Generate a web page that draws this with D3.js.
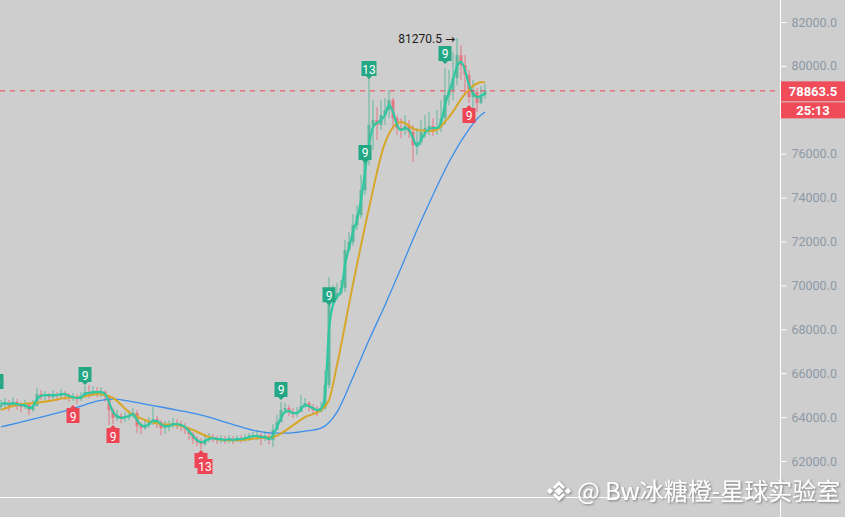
<!DOCTYPE html>
<html>
<head>
<meta charset="utf-8">
<script src="https://cdn.jsdelivr.net/npm/d3@7"></script>
<style>
  html, body { margin: 0; padding: 0; background: #cecece; overflow: hidden; }
  svg { display: block; font-family: Roboto, "Noto Sans", sans-serif; }
</style>
</head>
<body>
<svg id="chart" width="845" height="517"></svg>
<script>
// price axis ticks
const priceTicks = [62000, 64000, 66000, 68000, 70000, 72000, 74000, 76000, 78000, 80000, 82000];

// candles (open of each candle = previous close)
const firstOpen = 64460;
const closes = [
  64550, 64640, 64500, 64690, 64550, 64460, 64590, 64320, 64500, 65050,
  64960, 65000, 64910, 65050, 64960, 65100, 65000, 64870, 64910, 64820,
  64960, 65140, 65050, 65190, 65100, 65140, 64960, 64320, 63960, 64050,
  63960, 64000, 64090, 64180, 63590, 63500, 63640, 63770, 63910, 63770,
  63500, 63550, 63640, 63730, 63680, 63590, 63450, 63230, 63000, 62860,
  62770, 62950, 63090, 63040, 62950, 63000, 62950, 63000, 62950, 63040,
  63000, 63040, 63090, 63140, 63180, 63040, 63140, 62950, 63410, 63770,
  64320, 64410, 64230, 64140, 64230, 64500, 64640, 64460, 64320, 64230,
  64410, 65460, 69330, 69470, 69650, 69880, 71610, 71980, 72750, 73200,
  74340, 75710, 77310, 77530, 77310, 77760, 77990, 78440, 77620, 77170,
  77080, 77260, 76990, 76390, 76530, 76990, 77170, 77260, 77080, 77210,
  77620, 78670, 78900, 79450, 80490, 80040, 79580, 78580, 78810, 78310,
  78670, 78863.5
];
const highs = [
  64780, 64870, 64780, 64910, 64820, 64690, 64780, 64640, 64780, 65320,
  65230, 65190, 65100, 65230, 65140, 65280, 65190, 65100, 65100, 65050,
  65140, 65410, 65460, 65410, 65370, 65370, 65230, 65000, 64410, 64320,
  64180, 64230, 64320, 64410, 64320, 63770, 63860, 64000, 64460, 64050,
  63860, 63820, 63860, 63960, 63910, 63820, 63730, 63550, 63320, 63140,
  63040, 63140, 63270, 63230, 63140, 63180, 63140, 63180, 63140, 63180,
  63180, 63230, 63270, 63320, 63410, 63270, 63360, 63320, 63680, 64090,
  64690, 64640, 64550, 64410, 64460, 65000, 64870, 64730, 64590, 64500,
  64690, 66140, 70380, 70020, 70110, 70240, 72070, 72430, 73250, 73660,
  75030, 76170, 79670, 78440, 78130, 78440, 78540, 78900, 78540, 77760,
  77620, 77760, 77530, 77310, 77170, 77530, 77760, 77900, 77620, 77990,
  78440, 79900, 79810, 80630, 81270.5, 80950, 80490, 79810, 79360, 78990,
  79080, 79170
];
const lows = [
  64320, 64410, 64270, 64460, 64320, 64230, 64370, 64090, 64230, 64500,
  64780, 64780, 64690, 64820, 64730, 64870, 64780, 64690, 64730, 64590,
  64730, 64870, 64870, 64960, 64910, 64910, 64690, 63640, 63680, 63820,
  63730, 63770, 63860, 63960, 63270, 63230, 63410, 63500, 63640, 63500,
  63180, 63230, 63360, 63500, 63450, 63360, 63230, 62950, 62770, 62680,
  62540, 62680, 62860, 62860, 62770, 62820, 62770, 62820, 62770, 62860,
  62820, 62860, 62910, 62950, 62950, 62730, 62910, 62770, 62640, 63500,
  63960, 64180, 64050, 63960, 64000, 64230, 64410, 64270, 64140, 64050,
  64230, 64320, 65320, 69100, 69330, 69560, 69700, 71520, 71790, 72520,
  73070, 74120, 75480, 76170, 76620, 77080, 77310, 77620, 77080, 76850,
  76710, 76850, 76710, 75620, 75940, 76390, 76710, 76850, 76800, 76850,
  76990, 77310, 78220, 78440, 79130, 79360, 78670, 78310, 77990, 77900,
  78260, 78490
];

// fast moving average (teal), one value per candle
const maFast = [
  64590, 64640, 64590, 64640, 64590, 64550, 64550, 64410, 64500, 64820,
  64960, 65000, 65000, 65000, 65000, 65050, 65050, 64960, 64910, 64870,
  64910, 65050, 65100, 65140, 65140, 65140, 65050, 64680, 64230, 64050,
  63960, 64000, 64050, 64140, 63870, 63640, 63590, 63680, 63820, 63820,
  63680, 63590, 63590, 63680, 63680, 63640, 63550, 63360, 63140, 62950,
  62860, 62910, 63000, 63040, 63000, 63000, 62950, 63000, 62950, 63000,
  63000, 63040, 63090, 63140, 63140, 63090, 63090, 63000, 63180, 63550,
  63960, 64230, 64270, 64180, 64180, 64370, 64550, 64500, 64410, 64320,
  64370, 65000, 67970, 69100, 69470, 69740, 70930, 71700, 72430, 72980,
  73890, 75160, 76390, 77210, 77400, 77530, 77760, 78220, 77900, 77310,
  77080, 77170, 77080, 76710, 76350, 76620, 76940, 77120, 77170, 77170,
  77440, 78220, 78810, 79360, 79990, 80180, 79810, 79130, 78760, 78580,
  78630, 78760
];

// medium moving average (gold), read at these candle indexes
const maMidIdx = [0, 4, 8, 12, 16, 20, 24, 28, 32, 36, 40, 44, 48, 52, 56, 60, 64, 68, 72, 76, 80, 82, 84, 88, 92, 96, 100, 104, 108, 112, 116, 120, 121];
const maMid = [
  64320, 64550, 64640, 64730, 64870, 64910, 65050, 64870, 64230, 63870,
  63680, 63640, 63410, 63090, 62950, 62950, 63040, 63090, 63500, 64000,
  64320, 64770, 66370, 70060, 73520, 76490, 77440, 77080, 77030, 77670,
  78720, 79260, 79260
];

// slow moving average (blue), read at these candle indexes
const maSlowIdx = [0, 4, 8, 12, 16, 20, 24, 28, 32, 36, 40, 44, 48, 52, 56, 60, 64, 68, 72, 76, 80, 84, 88, 92, 96, 100, 104, 108, 112, 116, 120, 121];
const maSlow = [
  63550, 63730, 63910, 64090, 64280, 64500, 64730, 64820, 64730, 64590,
  64460, 64320, 64180, 64000, 63770, 63550, 63360, 63270, 63270, 63360,
  63500, 64230, 65820, 67510, 69100, 70790, 72520, 74120, 75620, 76850,
  77760, 77900
];

// TD sequential markers: candle index, price the pointer touches, text, side
const tdIndex = [-1, 18, 21, 28, 50, 51, 70, 82, 91, 92, 111, 117];
const tdPrice = [65140, 64550, 65460, 63640, 62500, 62230, 64780, 69100, 75580, 79400, 80090, 78220];
const tdText  = ["9", "9", "9", "9", "9", "13", "9", "9", "9", "13", "9", "9"];
const tdSide  = ["buy", "sell", "buy", "sell", "sell", "sell", "buy", "buy", "buy", "buy", "buy", "sell"];

const lastPrice = 78863.5;
const countdown = "25:13";
const peakIndex = 114;
const peakPrice = 81270.5;

const W = 845, H = 517;
const axisX = 780;
const svg = d3.select("#chart");

const x = d3.scaleLinear().domain([0, closes.length - 1]).range([1, 485]);
const y = d3.scaleLinear().domain([62000, 82000]).range([461, 22]);

const upColor = "#26a884", downColor = "#ee4b5a";

svg.append("rect").attr("width", W).attr("height", H).attr("fill", "#cecece");

// pane separators
svg.append("line")
  .attr("x1", 0).attr("x2", axisX).attr("y1", 497.5).attr("y2", 497.5)
  .attr("stroke", "#ffffff").attr("stroke-width", 1);
svg.append("line")
  .attr("x1", axisX + 0.5).attr("x2", axisX + 0.5).attr("y1", 0).attr("y2", H)
  .attr("stroke", "#ffffff").attr("stroke-width", 1);

// right price axis
let axis = svg.append("g")
  .attr("transform", `translate(${axisX + 0.5},0)`)
  .call(d3.axisRight(y).tickValues(priceTicks).tickFormat(d3.format(".1f")).tickSize(6).tickPadding(5));
axis.select(".domain").remove();
axis.selectAll(".tick line").attr("stroke", "#ffffff");
axis.selectAll(".tick text")
  .attr("fill", "#8d99a6")
  .style("font-size", "12.5px")
  .style("font-family", "Roboto, sans-serif");

svg.append("text")
  .attr("x", 791).attr("y", 526)
  .attr("fill", "#8d99a6")
  .style("font-size", "12.5px")
  .text("100.00%");

// candles
let candles = closes.map((c, i) => ({
  i: i,
  open: i === 0 ? firstOpen : closes[i - 1],
  close: c,
  high: highs[i],
  low: lows[i]
}));

let cg = svg.append("g").attr("opacity", 0.65);
cg.selectAll("line.wick")
  .data(candles)
  .enter()
  .append("line")
  .attr("class", "wick")
  .attr("x1", d => x(d.i)).attr("x2", d => x(d.i))
  .attr("y1", d => y(d.high)).attr("y2", d => y(d.low))
  .attr("stroke", d => d.close >= d.open ? upColor : downColor)
  .attr("stroke-width", 1);
cg.selectAll("rect.body")
  .data(candles)
  .enter()
  .append("rect")
  .attr("class", "body")
  .attr("x", d => x(d.i) - 1.5)
  .attr("width", 3)
  .attr("y", d => y(Math.max(d.open, d.close)))
  .attr("height", d => Math.max(1, Math.abs(y(d.open) - y(d.close))))
  .attr("fill", d => d.close >= d.open ? upColor : downColor);

// moving averages
function drawLine(idx, vals, color, width) {
  let pts = vals.map((v, k) => [x(idx[k]), y(v)]);
  svg.append("path")
    .attr("d", d3.line().curve(d3.curveMonotoneX)(pts))
    .attr("fill", "none")
    .attr("stroke", color)
    .attr("stroke-width", width)
    .attr("stroke-linejoin", "round");
}
drawLine(maSlowIdx, maSlow, "#3b8eea", 1.3);
drawLine(maMidIdx, maMid, "#d6a72a", 2);
drawLine(maFast.map((v, i) => i), maFast, "#2fc7a1", 2.2);

// last price dashed line
svg.append("line")
  .attr("x1", 0).attr("x2", axisX).attr("y1", y(lastPrice)).attr("y2", y(lastPrice))
  .attr("stroke", "#f0404f").attr("stroke-width", 1)
  .attr("stroke-dasharray", "5,5");

// TD markers
let td = tdIndex.map((idx, k) => ({ i: idx, p: tdPrice[k], t: tdText[k], s: tdSide[k] }));
let tdg = svg.selectAll("g.td")
  .data(td)
  .enter()
  .append("g")
  .attr("class", "td")
  .attr("transform", d => `translate(${x(d.i)},${y(d.p)})`);
tdg.append("path")
  .attr("d", d => {
    let w = d.t.length > 1 ? 15 : 13, h = 15, a = 3;
    let dir = d.s === "buy" ? -1 : 1;
    let top = dir * a, bot = dir * (a + h);
    return `M0,0 L${-a},${top} L${-w / 2},${top} L${-w / 2},${bot} L${w / 2},${bot} L${w / 2},${top} L${a},${top} Z`;
  })
  .attr("fill", d => d.s === "buy" ? "#23a784" : "#ee4555");
tdg.append("text")
  .attr("text-anchor", "middle")
  .attr("y", d => d.s === "buy" ? -5.5 : 15.5)
  .attr("fill", "#ffffff")
  .style("font-size", "12px")
  .style("font-family", "Roboto, sans-serif")
  .text(d => d.t);

// high annotation
svg.append("text")
  .attr("x", x(peakIndex) - 15).attr("y", y(peakPrice) + 5)
  .attr("text-anchor", "end")
  .attr("fill", "#1a1a1a")
  .style("font-size", "12px")
  .text(d3.format(".1f")(peakPrice));
svg.append("text")
  .attr("x", x(peakIndex) - 12).attr("y", y(peakPrice) + 5)
  .attr("fill", "#1a1a1a")
  .style("font-size", "12px")
  .style("font-family", "'DejaVu Sans', sans-serif")
  .text("→");

// price and countdown tags
svg.append("rect")
  .attr("x", axisX + 1).attr("y", y(lastPrice) - 9.5).attr("width", W - axisX).attr("height", 20)
  .attr("fill", "#ef4b58");
svg.append("rect")
  .attr("x", axisX + 1).attr("y", y(lastPrice) + 11.5).attr("width", W - axisX).attr("height", 16)
  .attr("fill", "#ef4b58");
svg.append("text")
  .attr("x", 813).attr("y", y(lastPrice) + 5)
  .attr("text-anchor", "middle")
  .attr("fill", "#ffffff")
  .style("font-size", "13px").style("font-weight", "bold")
  .text(d3.format(".1f")(lastPrice));
svg.append("text")
  .attr("x", 813).attr("y", y(lastPrice) + 24.5)
  .attr("text-anchor", "middle")
  .attr("fill", "#ffffff")
  .style("font-size", "13px").style("font-weight", "bold")
  .text(countdown);

// watermark
let defs = svg.append("defs");
let f = defs.append("filter").attr("id", "shadow").attr("x", "-10%").attr("y", "-20%").attr("width", "120%").attr("height", "150%");
f.append("feDropShadow").attr("dx", 1).attr("dy", 1).attr("stdDeviation", 1).attr("flood-color", "#555555").attr("flood-opacity", 0.7);

let wm = svg.append("g").attr("filter", "url(#shadow)").attr("fill", "#ffffff");
let logo = wm.append("g").attr("transform", "translate(559,491)");
[[0, 0, 3], [-9, 0, 2.2], [9, 0, 2.2]].forEach(s => {
  logo.append("rect")
    .attr("x", s[0] - s[2]).attr("y", s[1] - s[2]).attr("width", s[2] * 2).attr("height", s[2] * 2)
    .attr("transform", `rotate(45,${s[0]},${s[1]})`);
});
logo.append("path").attr("d", "M0,-10 L6,-4 L4,-2 L0,-6 L-4,-2 L-6,-4 Z");
logo.append("path").attr("d", "M0,10 L6,4 L4,2 L0,6 L-4,2 L-6,4 Z");
wm.append("text")
  .attr("x", 577).attr("y", 500)
  .style("font-size", "24px")
  .style("font-family", "'Noto Sans CJK SC', 'Noto Sans', sans-serif")
  .text("@ Bw冰糖橙-星球实验室");
</script>
</body>
</html>
